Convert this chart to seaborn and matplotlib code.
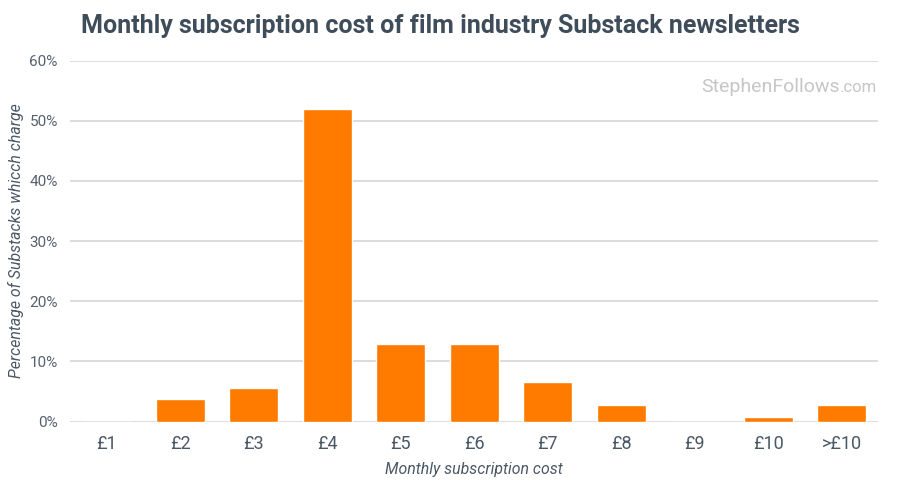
import numpy as np
import pandas as pd
import seaborn as sns
import matplotlib.pyplot as plt
from matplotlib.ticker import PercentFormatter

# data
costs = ['£1', '£2', '£3', '£4', '£5', '£6', '£7', '£8', '£9', '£10', '>£10']
share = [0.0, 3.7, 5.5, 51.9, 12.9, 12.9, 6.5, 2.8, 0.0, 0.8, 2.8]

df = pd.DataFrame({'cost': costs, 'share': share})

sns.set_theme(style='white')
plt.rcParams['font.family'] = ['Roboto', 'DejaVu Sans']

text_col = '#4b5866'
fig = plt.figure(figsize=(9, 4.84), dpi=100)
ax = fig.add_axes([0.078, 0.129, 0.898, 0.746])

sns.barplot(data=df, x='cost', y='share', color='#ff7b00', saturation=1,
            width=0.667, ax=ax, zorder=3)

ax.set_ylim(0, 60)
ax.set_yticks(np.arange(0, 61, 10))
ax.yaxis.set_major_formatter(PercentFormatter(decimals=0))
ax.grid(axis='y', color='#dcdcdc', lw=1.4, zorder=0)
ax.grid(axis='x', visible=False)
sns.despine(ax=ax, left=True, bottom=True, top=True, right=True)
ax.tick_params(axis='both', length=0)
ax.tick_params(axis='x', labelsize=13, labelcolor=text_col, pad=10)
ax.tick_params(axis='y', labelsize=11, labelcolor='#56616d', pad=9)

ax.set_xlabel('Monthly subscription cost', fontsize=11.4, style='italic',
              color=text_col, labelpad=6)
ax.set_ylabel('Percentage of Substacks whicch charge', fontsize=11.4,
              style='italic', color=text_col, labelpad=4)

fig.text(0.09, 0.932, 'Monthly subscription cost of film industry Substack newsletters',
         fontsize=18, fontweight='bold', color='#3f4d5b', va='baseline')

# watermark, right edge at the axes edge
wm_y = 0.913
com = ax.text(0.998, wm_y, '.com', transform=ax.transAxes, ha='right',
              va='baseline', fontsize=12, color='#c6c6c6')
fig.canvas.draw()
bb = com.get_window_extent().transformed(ax.transAxes.inverted())
ax.text(bb.x0, wm_y, 'StephenFollows', transform=ax.transAxes, ha='right',
        va='baseline', fontsize=14, color='#c6c6c6')

fig.savefig('out.png', dpi=100, facecolor='white')
